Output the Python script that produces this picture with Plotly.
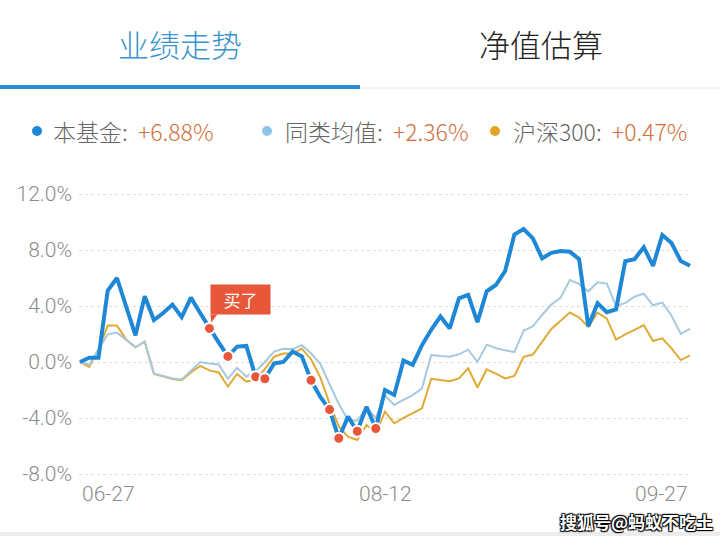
import plotly.graph_objects as go

# ---------------- data ----------------
fund = [0.0, 0.3, 0.3, 5.1, 6.0, 4.0, 1.9, 4.7, 3.0, 3.5,
        4.1, 3.2, 4.6, 3.5, 2.4, 1.4, 0.4, 1.1, 1.15, -1.05,
        -1.2, -0.1, 0.0, 0.75, 0.4, -1.3, -2.5, -3.4, -5.45, -3.9,
        -4.95, -3.2, -4.75, -2.0, -2.35, 0.1, -0.2, 1.2, 2.3, 3.25,
        2.4, 4.55, 4.8, 2.85, 5.05, 5.5, 6.5, 9.1, 9.5, 8.83,
        7.4, 7.8, 7.92, 7.87, 7.35, 2.55, 4.19, 3.56, 3.75, 7.2,
        7.35, 8.19, 6.87, 9.07, 8.5, 7.22, 6.88]
peer = [0.0, -0.2, 0.9, 1.98, 2.1, 1.57, 1.05, 1.45, -0.82, -1.0,
        -1.18, -1.25, -0.65, 0.0, -0.1, -0.18, -1.2, -0.42, -1.05, -0.65,
        0.0, 0.75, 0.95, 0.92, 1.2, 0.62, -0.15, -1.6, -3.0, -4.14,
        -4.2, -3.25, -4.0, -2.4, -3.07, -2.71, -2.36, -1.88, 0.5, 0.43,
        0.38, 0.55, 0.88, 0.0, 1.24, 0.98, 0.86, 0.7, 2.25, 2.55,
        3.36, 4.1, 4.6, 5.86, 5.58, 5.05, 5.7, 5.6, 4.0, 4.22,
        4.67, 4.88, 4.05, 4.25, 3.3, 2.0, 2.36]
hs300 = [0.0, -0.35, 0.9, 2.6, 2.6, 1.6, 1.05, 1.45, -0.85, -1.05,
         -1.22, -1.3, -0.75, -0.28, -0.6, -0.75, -1.75, -0.85, -1.4, -1.27,
         -0.5, 0.38, 0.6, 0.6, 0.95, 0.2, -1.1, -2.95, -4.6, -5.33,
         -5.57, -4.5, -5.1, -3.55, -4.38, -4.0, -3.67, -3.31, -1.2, -1.3,
         -1.38, -1.17, -0.45, -1.82, -0.53, -0.83, -1.17, -1.0, 0.37, 0.53,
         1.45, 2.36, 2.95, 3.53, 3.18, 2.5, 3.53, 3.1, 1.6, 1.98,
         2.29, 2.64, 1.5, 1.69, 0.98, 0.14, 0.47]
buy_idx = [14, 16, 19, 20, 25, 27, 28, 30, 32]
callout_idx = 14
callout_text = "买了"

x_label_idx = [0, 33, 66]
x_labels = ["06-27", "08-12", "09-27"]
y_ticks = [12, 8, 4, 0, -4, -8]
y_ticktext = ["12.0%", "8.0%", "4.0%", "0.0%", "-4.0%", "-8.0%"]

series_names = ["本基金", "同类均值", "沪深300"]
series_returns = ["+6.88%", "+2.36%", "+0.47%"]
tabs = ["业绩走势", "净值估算"]
watermark = "搜狐号@蚂蚁不吃土"

# ---------------- styles ----------------
C_FUND = "#1f88d6"
C_PEER = "#a6c9df"
C_HS = "#e0aa35"
C_RED = "#e8573a"
C_TAB = "#3a94cb"
GRAY = "#8c8c8c"
CJK = "Noto Sans CJK SC"
NUM = "Roboto"

W, H = 720, 536
ML, MR, MT, MB = 79, 29, 191, 59
PW, PH = W - ML - MR, H - MT - MB
n = len(fund)


def px_x(p):
    return (p - ML) / PW


def px_y(p):
    return (H - MB - p) / PH


xs = list(range(n))
fig = go.Figure()
fig.add_trace(go.Scatter(x=xs, y=hs300, mode="lines",
                         line=dict(color=C_HS, width=2), hoverinfo="skip"))
fig.add_trace(go.Scatter(x=xs, y=peer, mode="lines",
                         line=dict(color=C_PEER, width=2), hoverinfo="skip"))
fig.add_trace(go.Scatter(x=xs, y=fund, mode="lines",
                         line=dict(color=C_FUND, width=4), hoverinfo="skip"))
fig.add_trace(go.Scatter(x=buy_idx, y=[fund[i] for i in buy_idx], mode="markers",
                         marker=dict(color=C_RED, size=11,
                                     line=dict(color="white", width=2)),
                         hoverinfo="skip"))

annotations = []
shapes = []

# tabs
annotations.append(dict(xref="paper", yref="paper", x=px_x(180), y=px_y(43),
                        text=tabs[0], showarrow=False, xanchor="center", yanchor="middle",
                        font=dict(family=CJK, size=31, color=C_TAB, weight=300)))
annotations.append(dict(xref="paper", yref="paper", x=px_x(541), y=px_y(43),
                        text=tabs[1], showarrow=False, xanchor="center", yanchor="middle",
                        font=dict(family=CJK, size=31, color="#222222", weight=300)))
shapes.append(dict(type="rect", xref="paper", yref="paper",
                   x0=px_x(0), x1=px_x(360), y0=px_y(89), y1=px_y(85),
                   fillcolor="#2b8bd0", line=dict(width=0), layer="above"))
shapes.append(dict(type="line", xref="paper", yref="paper",
                   x0=px_x(360), x1=px_x(720), y0=px_y(88), y1=px_y(88),
                   line=dict(color="#e6e6e6", width=1)))

# legend
leg_dot_x = [37, 267, 495]
leg_txt_x = [51, 283, 511]
leg_colors = [C_FUND, "#8ec4e8", "#e2a526"]
for k in range(3):
    shapes.append(dict(type="circle", xref="paper", yref="paper",
                       xsizemode="pixel", ysizemode="pixel",
                       xanchor=px_x(leg_dot_x[k]), yanchor=px_y(131),
                       x0=-5, x1=5, y0=-5, y1=5,
                       fillcolor=leg_colors[k], line=dict(width=0)))
    annotations.append(dict(xref="paper", yref="paper", x=px_x(leg_txt_x[k]), y=px_y(131),
                            xanchor="left", yanchor="middle", showarrow=False,
                            text=(f"<span style='color:#666666'>{series_names[k]}:&nbsp; </span>"
                                  f"<span style='color:#d0703c'>{series_returns[k]}</span>"),
                            font=dict(family=CJK, size=23, weight=300)))

# x labels
anchors = ["left", "center", "right"]
for k in range(3):
    annotations.append(dict(xref="x", yref="paper", x=x_label_idx[k], y=0,
                            yanchor="top", xanchor=anchors[k], yshift=-3, showarrow=False,
                            text=x_labels[k],
                            font=dict(family=NUM, size=21, color=GRAY, weight=300)))

# callout
annotations.append(dict(xref="x", yref="y", x=callout_idx, y=fund[callout_idx],
                        xanchor="left", yanchor="bottom", yshift=13, xshift=1,
                        showarrow=False, text=callout_text,
                        bgcolor=C_RED, borderpad=4, width=51, height=21,
                        font=dict(family=CJK, size=17, color="white")))
shapes.append(dict(type="path", xref="x", yref="y",
                   xsizemode="pixel", ysizemode="pixel",
                   xanchor=callout_idx, yanchor=fund[callout_idx],
                   path="M 1 14 L 8 14 L 2 6 Z",
                   fillcolor=C_RED, line=dict(width=0)))

# watermark
annotations.append(dict(xref="paper", yref="paper", x=px_x(636), y=px_y(521),
                        xanchor="center", yanchor="middle", showarrow=False,
                        text=watermark,
                        font=dict(family=CJK, size=17, color="white", weight=700,
                                  shadow="1px 1px 1px #000, -1px -1px 1px #000, 1px -1px 1px #000, -1px 1px 1px #000")))
shapes.append(dict(type="rect", xref="paper", yref="paper",
                   x0=px_x(0), x1=px_x(720), y0=px_y(536), y1=px_y(532),
                   fillcolor="#ececec", line=dict(width=0), layer="below"))

fig.update_layout(
    width=W, height=H, autosize=False,
    margin=dict(l=ML, r=MR, t=MT, b=MB, pad=0),
    paper_bgcolor="white", plot_bgcolor="white",
    showlegend=False,
    annotations=annotations, shapes=shapes,
    xaxis=dict(range=[-1 / 9.2424, 66 + 1 / 9.2424], showgrid=False, zeroline=False,
               showticklabels=False, showline=False, fixedrange=True),
    yaxis=dict(range=[-8 - 3 / 14, 12 + 3 / 14], tickvals=y_ticks, ticktext=y_ticktext,
               showgrid=True, gridcolor="#dcdcdc", griddash="dot", gridwidth=1,
               zeroline=False, showline=False, ticks="", ticklabelstandoff=6,
               tickfont=dict(family=NUM, size=21, color=GRAY, weight=300), fixedrange=True),
)

fig.write_html("out.html", config={"displayModeBar": False})
